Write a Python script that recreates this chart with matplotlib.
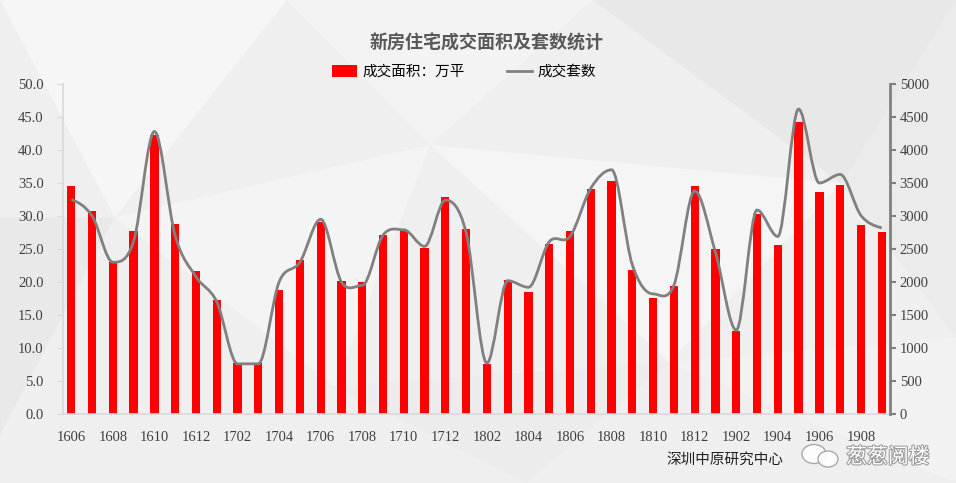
import matplotlib
matplotlib.use("Agg")
import matplotlib.pyplot as plt
import numpy as np
from matplotlib.path import Path
from matplotlib.patches import PathPatch, Polygon, Ellipse
import matplotlib.patheffects as pe

plt.rcParams['font.family'] = ['Noto Sans CJK SC', 'DejaVu Sans']

months = ["1606", "1607", "1608", "1609", "1610", "1611", "1612",
          "1701", "1702", "1703", "1704", "1705", "1706", "1707", "1708",
          "1709", "1710", "1711", "1712",
          "1801", "1802", "1803", "1804", "1805", "1806", "1807", "1808",
          "1809", "1810", "1811", "1812",
          "1901", "1902", "1903", "1904", "1905", "1906", "1907", "1908", "1909"]

# 成交面积（万平）
area = [34.5, 30.8, 23.1, 27.7, 42.3, 28.8, 21.7,
        17.3, 7.8, 7.8, 18.8, 23.3, 29.1, 20.2, 20.0,
        27.1, 27.8, 25.2, 32.9,
        28.0, 7.6, 20.3, 18.5, 25.8, 27.7, 34.1, 35.3,
        21.8, 17.6, 19.4, 34.5,
        25.0, 12.6, 30.3, 25.6, 44.2, 33.6, 34.7, 28.6, 27.6]

# 成交套数
units = [3250, 3000, 2300, 2620, 4280, 2700, 2080,
         1700, 760, 760, 2000, 2300, 2950, 2000, 1950,
         2710, 2790, 2540, 3240,
         2750, 770, 2020, 1920, 2610, 2690, 3420, 3700,
         2260, 1820, 1950, 3380,
         2450, 1270, 3090, 2690, 4620, 3500, 3630, 3010, 2820]

left_ticks = np.arange(0, 50.1, 5)
right_ticks = np.arange(0, 5001, 500)

num_font = 'Liberation Serif'
gray_txt = '#404040'


def smooth_path(x, y, tension=1 / 6):
    # smoothed line drawn as cubic Bezier segments through the data points,
    # flat tangents at local extremes so the curve does not overshoot
    x = np.asarray(x, float)
    y = np.asarray(y, float)
    n = len(x)
    dy = np.zeros(n)
    for i in range(n):
        a = i - 1 if i > 0 else i
        b = i + 1 if i + 1 < n else i
        if 0 < i < n - 1 and (y[i] - y[i - 1]) * (y[i + 1] - y[i]) <= 0:
            dy[i] = 0
        else:
            dy[i] = (y[b] - y[a]) * tension
    verts = [(x[0], y[0])]
    codes = [Path.MOVETO]
    for i in range(n - 1):
        h = (x[i + 1] - x[i]) / 3
        c1 = (x[i] + h, y[i] + dy[i])
        c2 = (x[i + 1] - h, y[i + 1] - dy[i + 1])
        verts += [c1, c2, (x[i + 1], y[i + 1])]
        codes += [Path.CURVE4] * 3
    return Path(verts, codes)


fig = plt.figure(figsize=(9.56, 4.83), dpi=100)
fig.patch.set_facecolor('#efefef')

# faint polygon texture in the background
bg = fig.add_axes([0, 0, 1, 1], zorder=-10)
bg.set_xlim(0, 1)
bg.set_ylim(0, 1)
bg.axis('off')
shapes = [
    ([(0, 1), (0.3, 1), (0.12, 0.55)], '#f6f6f6'),
    ([(0.3, 1), (0.62, 1), (0.45, 0.7)], '#f3f3f3'),
    ([(0.62, 1), (1, 1), (0.88, 0.62)], '#e8e8e8'),
    ([(0.12, 0.55), (0.45, 0.7), (0.35, 0.2)], '#f4f4f4'),
    ([(0.45, 0.7), (0.88, 0.62), (0.7, 0.25)], '#f5f5f5'),
    ([(0.88, 0.62), (1, 1), (1, 0.3)], '#ebebeb'),
    ([(0, 0.55), (0.12, 0.55), (0, 0.1)], '#e9e9e9'),
    ([(0.35, 0.2), (0.7, 0.25), (0.55, 0)], '#ececec'),
    ([(0.7, 0.25), (1, 0.3), (1, 0)], '#f2f2f2'),
]
for pts, c in shapes:
    bg.add_patch(Polygon(pts, closed=True, facecolor=c, edgecolor='none'))

ax = fig.add_axes([63 / 956, 1 - 414 / 483, (890 - 63) / 956, (414 - 84) / 483])
ax.patch.set_alpha(0)
x = np.arange(len(months))
ax.bar(x, area, width=0.4, color='#ff0000', label='成交面积：万平', zorder=2)
ax.set_xlim(-0.4, 39.4)
ax.set_ylim(0, 50)
ax.set_yticks(left_ticks)
ax.set_yticklabels(['%.1f' % v for v in left_ticks], fontfamily=num_font, fontsize=10.5, color=gray_txt)
ax.set_xticks(x[::2])
ax.set_xticklabels(months[::2], fontfamily=num_font, fontsize=10.5, color=gray_txt)
ax.tick_params(axis='x', length=0, pad=12)
ax.tick_params(axis='y', length=4, color='#d9d9d9', pad=10)
for s in ['top', 'right']:
    ax.spines[s].set_visible(False)
ax.spines['left'].set_color('#d9d9d9')
ax.spines['bottom'].set_color('#d9d9d9')
ax.spines['left'].set_linewidth(1.2)
ax.spines['bottom'].set_linewidth(1.2)

ax2 = ax.twinx()
ax2.set_ylim(0, 5000)
ax2.set_yticks(right_ticks)
ax2.set_yticklabels(['%d' % v for v in right_ticks], fontfamily=num_font, fontsize=10.5, color=gray_txt)
ax2.tick_params(axis='y', length=4, color='#808080', width=1.5, pad=3)
for s in ['top', 'left', 'bottom']:
    ax2.spines[s].set_visible(False)
ax2.spines['right'].set_color('#808080')
ax2.spines['right'].set_linewidth(2)
ax2.add_patch(PathPatch(smooth_path(x, units), facecolor='none', edgecolor='#808080', lw=2, zorder=3))
line_handle, = ax2.plot([], [], color='#808080', lw=2, label='成交套数')

fig.text(487 / 956, 1 - 43 / 483, '新房住宅成交面积及套数统计', ha='center', va='center',
         fontsize=13, fontweight='bold', color='#595959')

bar_handles, bar_labels = ax.get_legend_handles_labels()
fig.legend(bar_handles + [line_handle], bar_labels + ['成交套数'], loc='center',
           bbox_to_anchor=(464 / 956, 1 - 72 / 483), ncol=2, frameon=False, fontsize=10.5,
           handlelength=1.7, handleheight=0.8, columnspacing=2.9, handletextpad=0.4)

fig.text(725 / 956, 1 - 460 / 483, '深圳中原研究中心', ha='center', va='center',
         fontsize=10.5, color='#202020')

# watermark
for cx, cy, w, h in [(814, 454, 24, 19), (828, 459, 20, 16)]:
    fig.add_artist(Ellipse((cx / 956, 1 - cy / 483), w / 956, h / 483, transform=fig.transFigure,
                           facecolor='white', edgecolor='#a0a0a0', lw=1, alpha=0.9))
fig.text(888 / 956, 1 - 457 / 483, '葱葱阅楼', ha='center', va='center',
         fontsize=15, color='white', style='italic',
         path_effects=[pe.withStroke(linewidth=1.5, foreground='#9a9a9a')])

fig.savefig('out.png', dpi=100, facecolor=fig.get_facecolor())
